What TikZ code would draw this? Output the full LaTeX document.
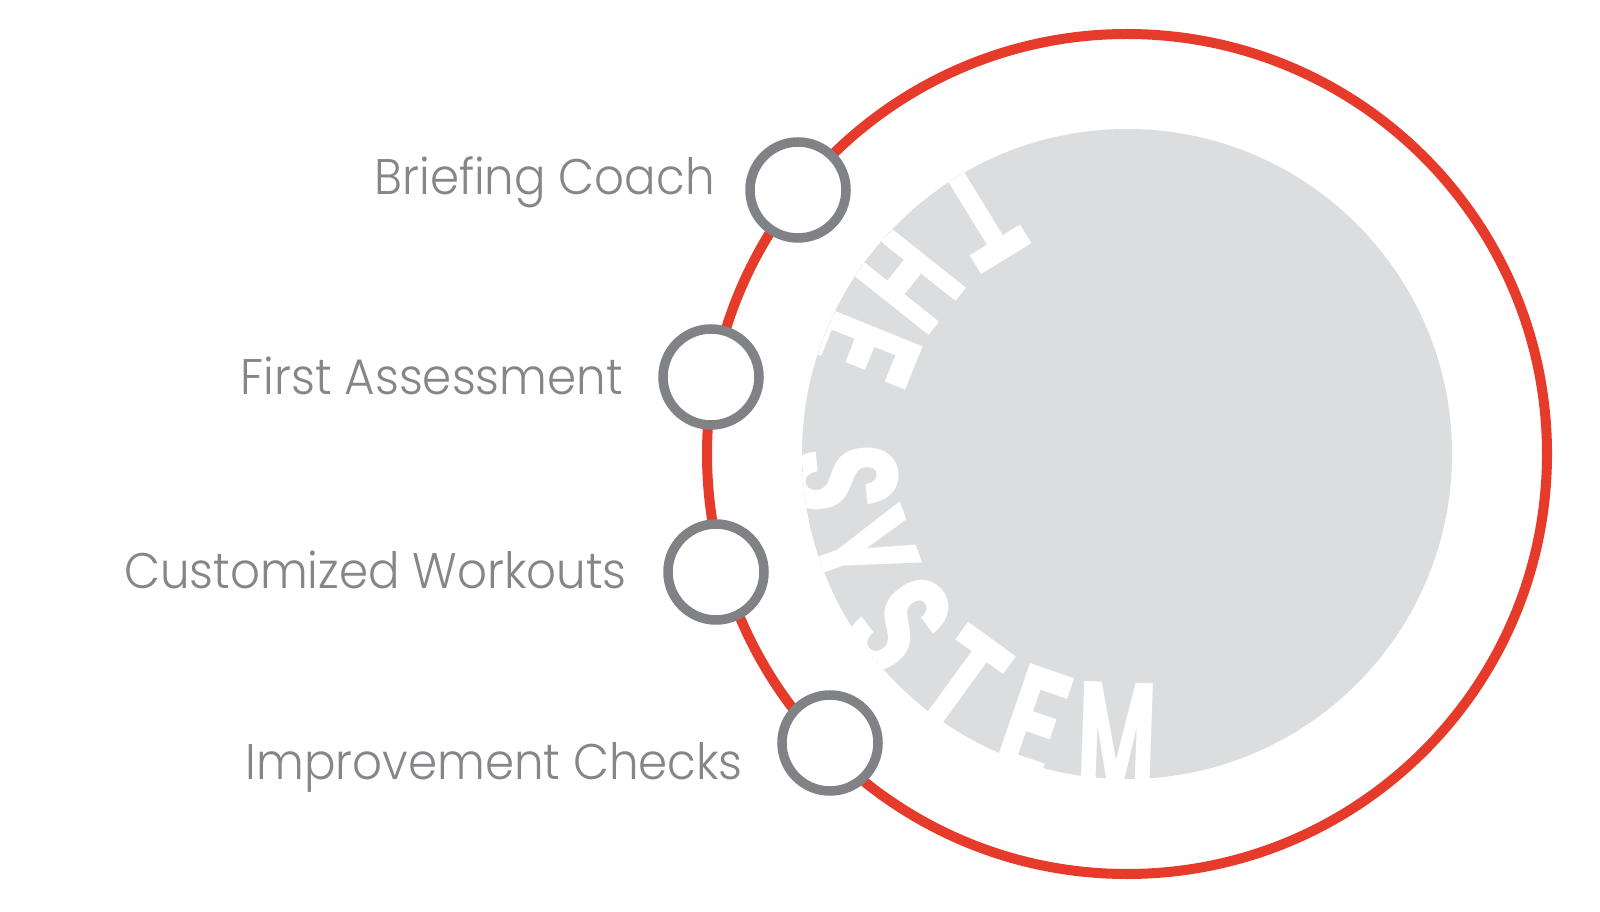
\documentclass[tikz,border=0pt]{standalone}
\usepackage{fontspec}
\newfontfamily\labelfont{Poppins Light}[FakeStretch=0.935]
\newfontfamily\sysfont{Poppins Bold}
\definecolor{ringred}{HTML}{E63B2A}
\definecolor{dotgray}{HTML}{808285}
\definecolor{discgray}{HTML}{DCDDDF}
\definecolor{labelgray}{HTML}{84868A}
\begin{document}
\begin{tikzpicture}[x=1pt,y=1pt,
  stepdot/.style={circle, draw=dotgray, line width=9.5pt, fill=white, minimum size=96pt, inner sep=0pt},
  steplabel/.style={anchor=base east, inner sep=0pt, text=labelgray, font=\labelfont\fontsize{50}{50}\selectfont},
  sysletter/.style={anchor=north, inner sep=0pt, text=white, font=\sysfont\fontsize{160}{160}\selectfont}]
\useasboundingbox[fill=white] (0,0) rectangle (1600,911);
\coordinate (c) at (1127,457);
\draw[ringred, line width=10pt] (c) circle[radius=420];
\fill[discgray] (c) circle[radius=325];
\begin{scope}
\clip (c) circle[radius=325];
\foreach \ch/\ang/\sx [count=\i] in {T/121.5/0.68, H/141.5/0.62, E/158/0.68, S/185/0.68, Y/200/0.62, S/217/0.68, T/234/0.68, E/251/0.68, M/268/0.54}
  \node[sysletter, rotate=\ang+90] (L\i) at ([shift={(\ang:229)}]c) {\scalebox{\sx}[1]{\ch}};
\end{scope}
\node[stepdot] (s1) at (798,721) {};
\node[stepdot] (s2) at (711,534) {};
\node[stepdot] (s3) at (716,339) {};
\node[stepdot] (s4) at (830,168) {};
\node[steplabel] (l1) at (715,716) {Briefing Coach};
\node[steplabel] (l2) at (623,516) {First Assessment};
\node[steplabel] (l3) at (627,323) {Customized Workouts};
\node[steplabel] (l4) at (743,132) {Improvement Checks};
\end{tikzpicture}
\end{document}
